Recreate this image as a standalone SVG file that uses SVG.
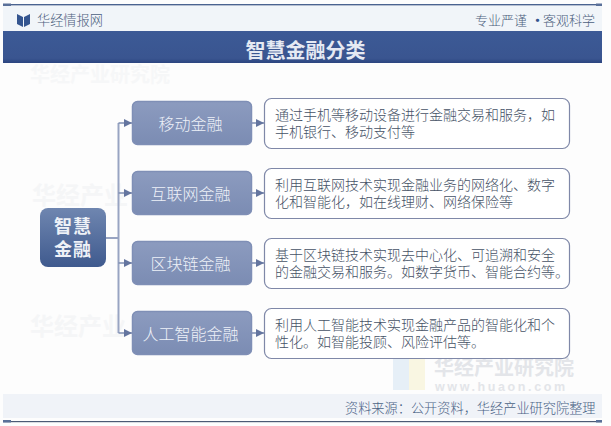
<svg xmlns="http://www.w3.org/2000/svg" width="611" height="426" viewBox="0 0 611 426">
<style>
text{font-family:"Noto Sans CJK SC","Liberation Sans",sans-serif}
.cat rect{fill:url(#cg);stroke:#7f8fb6;stroke-width:1.5}
.cat text{fill:#eef1f8;font-size:16px;text-anchor:middle;font-weight:300}
.desc rect{fill:#fff;stroke:#7f88a8;stroke-width:1.2}
.desc text{fill:#465266;font-size:14px;font-weight:300}
.wm{fill:#f1f2f4;font-weight:700}
.conn{fill:none;stroke:#98a4c2;stroke-width:2}
.short{fill:none;stroke:#7d8cb0;stroke-width:1.5}
</style>
<defs>
<linearGradient id="cg" x1="0" y1="0" x2="0" y2="1"><stop offset="0" stop-color="#8c9bbf"/><stop offset="1" stop-color="#7b8cb3"/></linearGradient>
<linearGradient id="rg" x1="0" y1="0" x2="0" y2="1"><stop offset="0" stop-color="#6f86b0"/><stop offset="1" stop-color="#3f5a8e"/></linearGradient>
<linearGradient id="tg" x1="0" y1="0" x2="0" y2="1"><stop offset="0" stop-color="#3c5a96"/><stop offset=".85" stop-color="#3a5590"/><stop offset="1" stop-color="#2c4580"/></linearGradient>
<marker id="ah" markerWidth="9" markerHeight="9" refX="8" refY="4" orient="auto" markerUnits="userSpaceOnUse"><path d="M0,0L8,4L0,8Z" fill="#64759f"/></marker>
</defs>
<rect width="611" height="426" fill="#fdfdfd"/>
<g id="watermark">
<text class="wm" x="30" y="82" font-size="20" opacity=".5">华经产业研究院</text>
<text class="wm" x="32" y="204" font-size="24" opacity=".6">华经产业</text>
<text class="wm" x="30" y="335" font-size="24" opacity=".6">华经产业</text>
<rect x="393" y="357" width="16" height="33" fill="#e6eff7"/>
<rect x="409" y="357" width="16" height="33" fill="#f9f6e2"/>
<text x="434" y="375" font-size="20" font-weight="700" fill="#e3e5e9">华经产业研究院</text>
<text x="435" y="391" font-size="12.5" font-weight="700" fill="#e3e5e9" letter-spacing="2.6" style="font-family:'Liberation Sans',sans-serif">www.huaon.com</text>
</g>
<g id="header">
<rect x="3" y="6" width="599" height="25" fill="#f1f5f9"/>
<rect x="3" y="4" width="599" height="1.4" fill="#4a6390"/>
<rect x="3" y="3.5" width="8" height="2.5" fill="#5a7099"/>
<rect x="596" y="3.5" width="6" height="2.500" fill="#5a7099"/>
<path d="M17,14L23,17V27L17,24ZM30,14L24,17V27L30,24Z" fill="#34558f"/>
<text x="37" y="25" font-size="13.2" fill="#4c5f7d" font-weight="300">华经情报网</text>
<text x="475" y="25" font-size="13" fill="#4c5f7d" font-weight="300">专业严谨 <tspan x="531" font-weight="700" fill="#34558f">•</tspan> <tspan x="543">客观科学</tspan></text>
</g>
<g id="title">
<rect x="3" y="31" width="599" height="32" fill="url(#tg)"/>
<text x="305.500" y="57.500" font-size="20" font-weight="700" fill="#e6eaf3" text-anchor="middle">智慧金融分类</text>
</g>
<g id="footer">
<rect x="3" y="394" width="599" height="24" fill="#f0f3f8"/>
<rect x="3" y="421" width="599" height="1.2" fill="#4c5a75"/>
<rect x="3" y="420" width="8" height="2.500" fill="#5a7099"/>
<rect x="596" y="420" width="6" height="2.500" fill="#5a7099"/>
<text x="345" y="413" font-size="13.2" fill="#4a6285" font-weight="300">资料来源&#xFF1A;公开资料&#xFF0C;华经产业研究院整理</text>
</g>
<g id="connectors">
<path class="conn" d="M106,238H118.500"/>
<path class="conn" d="M118.500,123V333"/>
<path class="short" d="M118.500,123H132" marker-end="url(#ah)"/>
<path class="short" d="M118.500,193H132" marker-end="url(#ah)"/>
<path class="short" d="M118.500,263H132" marker-end="url(#ah)"/>
<path class="short" d="M118.500,333H132" marker-end="url(#ah)"/>
<path class="short" d="M252,123H264" marker-end="url(#ah)"/>
<path class="short" d="M252,193H264" marker-end="url(#ah)"/>
<path class="short" d="M252,263H264" marker-end="url(#ah)"/>
<path class="short" d="M252,333H264" marker-end="url(#ah)"/>
</g>
<g id="root">
<rect x="40" y="208" width="66" height="59" rx="8" fill="url(#rg)"/>
<text x="73" y="233" font-size="18" font-weight="700" fill="#eef1f7" text-anchor="middle" letter-spacing="1">智慧</text>
<text x="73" y="256" font-size="18" font-weight="700" fill="#eef1f7" text-anchor="middle" letter-spacing="1">金融</text>
</g>
<g id="cat1" class="cat"><rect x="132.500" y="101.500" width="119" height="43" rx="5"/><text x="190.500" y="130">移动金融</text></g>
<g id="cat2" class="cat"><rect x="132.500" y="171.500" width="119" height="43" rx="5"/><text x="190.500" y="200">互联网金融</text></g>
<g id="cat3" class="cat"><rect x="132.500" y="241.500" width="119" height="43" rx="5"/><text x="190.500" y="270">区块链金融</text></g>
<g id="cat4" class="cat"><rect x="132.500" y="311.500" width="119" height="43" rx="5"/><text x="190.500" y="340">人工智能金融</text></g>
<g id="desc1" class="desc"><rect x="264.500" y="98.500" width="305" height="50" rx="7"/><text x="275" y="120">通过手机等移动设备进行金融交易和服务&#xFF0C;如</text><text x="275" y="137">手机银行、移动支付等</text></g>
<g id="desc2" class="desc"><rect x="264.500" y="168.500" width="305" height="50" rx="7"/><text x="275" y="190">利用互联网技术实现金融业务的网络化、数字</text><text x="275" y="207">化和智能化&#xFF0C;如在线理财、网络保险等</text></g>
<g id="desc3" class="desc"><rect x="264.500" y="238.500" width="305" height="50" rx="7"/><text x="275" y="260">基于区块链技术实现去中心化、可追溯和安全</text><text x="275" y="277">的金融交易和服务。如数字货币、智能合约等。</text></g>
<g id="desc4" class="desc"><rect x="264.500" y="308.500" width="305" height="50" rx="7"/><text x="275" y="330">利用人工智能技术实现金融产品的智能化和个</text><text x="275" y="347">性化。如智能投顾、风险评估等。</text></g>
</svg>
